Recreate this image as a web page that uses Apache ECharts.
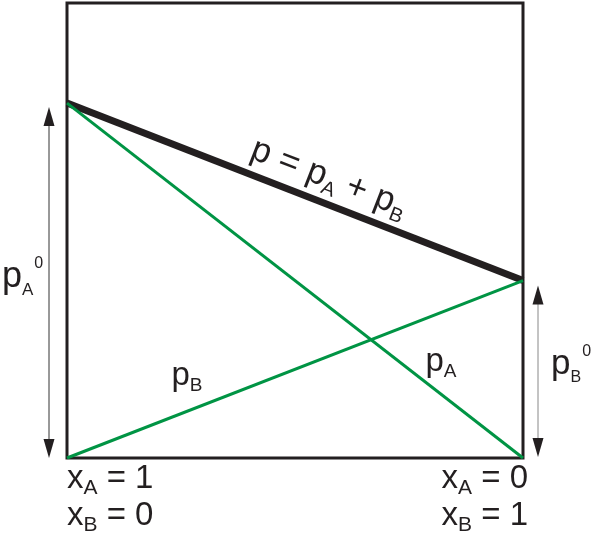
<!DOCTYPE html>
<html>
<head>
<meta charset="utf-8">
<script src="https://cdn.jsdelivr.net/npm/echarts@6/dist/echarts.min.js"></script>
<style>
html,body{margin:0;padding:0;background:#fff;}
#c{width:591px;height:537px;}
</style>
</head>
<body>
<div id="c"></div>
<script>
// ---- data (Raoult's law, ideal binary mixture) ----
const xB = [0, 1];            // mole fraction of B at left / right edge
const pA = [78, 0];           // partial pressure of A
const pB = [0, 39];           // partial pressure of B
const pTotal = [78, 39];      // total pressure p = pA + pB
const pA0 = 78, pB0 = 39;     // pure-component vapour pressures
const yMax = 100;

const FONT = '"Liberation Sans", Arial, Helvetica, sans-serif';
const INK = '#231f20';
const GREEN = '#009444';

const chart = echarts.init(document.getElementById('c'), null, {renderer: 'canvas'});

function pts(ys) { return xB.map((x, i) => [x, ys[i]]); }

chart.setOption({
  animation: false,
  backgroundColor: '#fff',
  grid: {left: 67, right: 68, top: 3, bottom: 79, show: true,
         borderColor: INK, borderWidth: 3, backgroundColor: 'transparent'},
  xAxis: {type: 'value', min: 0, max: 1, show: false},
  yAxis: {type: 'value', min: 0, max: yMax, show: false},
  series: [
    {name: 'p', type: 'line', data: pts(pTotal), showSymbol: false, z: 2,
     lineStyle: {color: INK, width: 7}},
    {name: 'pA', type: 'line', data: pts(pA), showSymbol: false, z: 3,
     lineStyle: {color: GREEN, width: 3}},
    {name: 'pB', type: 'line', data: pts(pB), showSymbol: false, z: 3,
     lineStyle: {color: GREEN, width: 3}}
  ]
});

const px = (x, y) => chart.convertToPixel({gridIndex: 0}, [x, y]);

// label builder: parts = [[text, 'm'|'s'|'u'], ...]
function label(o) {
  const S = o.size, s = o.subSize || Math.round(S * 0.55), u = o.supSize || Math.round(S * 0.47);
  const H = Math.round(S * 1.2);
  const bm = H / 2 + 0.35 * S;
  const Ls = Math.max(2, 2 * (H - bm - o.drop + 0.35 * s));
  const Lu = Math.max(2, 2 * (bm - (o.rise || 0) - 0.35 * u));
  const text = o.parts.map(p => '{' + p[1] + '|' + p[0] + '}').join('');
  const el = {
    type: 'text',
    z: 10,
    style: {
      text: text,
      fill: INK,
      font: S + 'px ' + FONT,
      align: o.align || 'left',
      verticalAlign: 'top',
      rich: {
        m: {fontSize: S, fontFamily: FONT, lineHeight: H, fill: INK, color: INK},
        s: {fontSize: s, fontFamily: FONT, lineHeight: Ls, verticalAlign: 'bottom', fill: INK, color: INK},
        u: {fontSize: u, fontFamily: FONT, lineHeight: Lu, verticalAlign: 'top', fill: INK, color: INK,
            padding: [0, 0, 0, o.supGap || 0]}
      }
    }
  };
  if (o.rotation !== undefined) {
    el.style.align = 'center';
    el.style.verticalAlign = 'middle';
    return {type: 'group', x: o.x, y: o.y, rotation: o.rotation, z: 10,
            children: [Object.assign(el, {x: 0, y: 0})]};
  }
  el.x = o.x;
  el.y = o.baseline - bm;
  return el;
}

function arrow(x, yTop, yBot, color) {
  const hw = 5.5, hl = 19;
  return [
    {type: 'line', z: 5, shape: {x1: x, y1: yTop + hl - 2, x2: x, y2: yBot - hl + 2},
     style: {stroke: color, lineWidth: 1}},
    {type: 'polygon', z: 5, shape: {points: [[x, yTop], [x - hw, yTop + hl], [x + hw, yTop + hl]]},
     style: {fill: INK}},
    {type: 'polygon', z: 5, shape: {points: [[x, yBot], [x - hw, yBot - hl], [x + hw, yBot - hl]]},
     style: {fill: INK}}
  ];
}

const L0 = px(0, 0), LA = px(0, pA0), R0 = px(1, 0), RB = px(1, pB0);
const leftX = L0[0], rightX = R0[0], botY = L0[1];

// rotated label along the total pressure line
const t = 0.555;
const onLine = px(t, pTotal[0] + (pTotal[1] - pTotal[0]) * t);
const ang = Math.atan2(RB[1] - LA[1], rightX - leftX);
const off = 25;
const lx = onLine[0] + Math.sin(ang) * off, ly = onLine[1] - Math.cos(ang) * off;

const pAline = px(0.795, pA[0] + (pA[1] - pA[0]) * 0.795);
const pBline = px(0.24, pB[0] + (pB[1] - pB[0]) * 0.24);

const graphics = [].concat(
  arrow(leftX - 18, LA[1] + 4, botY, '#333'),
  arrow(rightX + 15, RB[1] + 5, botY - 1, '#888'),
  [
    label({x: leftX - 65, baseline: 290, size: 36, subSize: 17, supSize: 16, drop: 5, rise: 13, supGap: 1,
           parts: [['p', 'm'], ['A', 's'], ['0', 'u']]}),
    label({x: rightX + 28, baseline: 377, size: 35, subSize: 16, supSize: 16, drop: 5, rise: 19, supGap: 1,
           parts: [['p', 'm'], ['B', 's'], ['0', 'u']]}),
    label({x: pBline[0] - 5, baseline: 387, size: 33, subSize: 19, drop: 6,
           parts: [['p', 'm'], ['B', 's']]}),
    label({x: pAline[0] - 4, baseline: 373, size: 33, subSize: 19, drop: 5,
           parts: [['p', 'm'], ['A', 's']]}),
    label({x: lx, y: ly, rotation: -ang, size: 35, subSize: 20, drop: 7,
           parts: [['p = p', 'm'], ['A', 's'], [' + p', 'm'], ['B', 's']]}),
    label({x: leftX, baseline: botY + 32, size: 33, subSize: 21, drop: 8,
           parts: [['x', 'm'], ['A', 's'], [' = 1', 'm']]}),
    label({x: leftX, baseline: botY + 69, size: 33, subSize: 21, drop: 8,
           parts: [['x', 'm'], ['B', 's'], [' = 0', 'm']]}),
    label({x: rightX + 5, baseline: botY + 32, size: 33, subSize: 21, drop: 8, align: 'right',
           parts: [['x', 'm'], ['A', 's'], [' = 0', 'm']]}),
    label({x: rightX + 5, baseline: botY + 69, size: 33, subSize: 21, drop: 8, align: 'right',
           parts: [['x', 'm'], ['B', 's'], [' = 1', 'm']]})
  ]
);

chart.setOption({graphic: {elements: graphics}});
</script>
</body>
</html>
